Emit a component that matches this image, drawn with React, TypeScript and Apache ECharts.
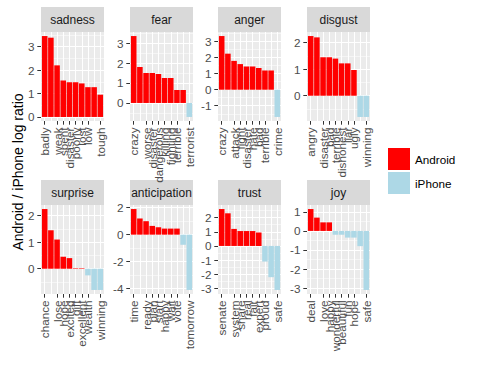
import React, { useEffect, useRef } from "react";
import * as echarts from "echarts";

const sentiments = ["sadness", "fear", "anger", "disgust", "surprise", "anticipation", "trust", "joy"];

const sadnessWords = ["badly", "crazy", "weak", "spent", "disaster", "poorly", "lost", "low", "killing", "tough"];
const sadnessValues = [3.45, 3.38, 2.2, 1.55, 1.48, 1.48, 1.43, 1.27, 1.27, 0.95];

const fearWords = ["crazy", "fight", "worse", "disaster", "dangerous", "killing", "fighting", "terrible", "chaotic", "terrorist"];
const fearValues = [3.35, 1.8, 1.5, 1.5, 1.45, 1.25, 1.25, 0.65, 0.65, -0.7];

const angerWords = ["crazy", "angry", "attack", "fight", "disaster", "hate", "bad", "terrible", "killing", "crime"];
const angerValues = [3.35, 2.25, 1.8, 1.6, 1.45, 1.45, 1.35, 1.2, 1.2, -1.7];

const disgustWords = ["angry", "mess", "disaster", "bad", "terrible", "dishonest", "liar", "ugly", "unfair", "winning"];
const disgustValues = [2.25, 2.2, 1.45, 1.45, 1.4, 1.22, 1.22, 0.97, -0.8, -0.8];

const surpriseWords = ["chance", "death", "lose", "hope", "excited", "gift", "excellent", "wealth", "wonderful", "winning"];
const surpriseValues = [2.25, 1.45, 1.1, 0.45, 0.4, 0.02, 0.02, -0.25, -0.8, -0.8];

const anticipationWords = ["time", "hope", "ready", "plan", "start", "happy", "wait", "vote", "watch", "tomorrow"];
const anticipationValues = [1.9, 1.2, 1.0, 0.65, 0.55, 0.45, 0.45, 0.45, -0.75, -4.1];

const trustWords = ["senate", "economy", "system", "share", "real", "fair", "expert", "proud", "repeal", "safe"];
const trustValues = [2.6, 2.3, 1.2, 1.05, 1.05, 1.05, 0.95, -1.1, -2.2, -3.1];

const joyWords = ["deal", "special", "love", "happy", "wonderful", "beautiful", "fun", "hope", "winning", "safe"];
const joyValues = [1.15, 0.7, 0.45, 0.45, -0.2, -0.2, -0.35, -0.35, -0.8, -3.1];

const allWords = [sadnessWords, fearWords, angerWords, disgustWords, surpriseWords, anticipationWords, trustWords, joyWords];
const allValues = [sadnessValues, fearValues, angerValues, disgustValues, surpriseValues, anticipationValues, trustValues, joyValues];
const yBreakSteps = [1, 1, 1, 1, 1, 2, 1, 1];
const legendNames = ["Android", "iPhone"];

const colLeft = [41, 130, 218, 307];
const rowTop = [32, 205];
const panelW = 63;
const panelH = 89;
const stripH = 25;
const FONT = "Liberation Sans, Arial, sans-serif";
const RED = "#FF0000";
const BLUE = "#ADD8E6";

function range(a: number, b: number, step: number): number[] {
  const out: number[] = [];
  for (let v = a; v <= b + 1e-9; v += step) out.push(Math.round(v * 1000) / 1000);
  return out;
}

export default function App() {
  const ref = useRef<HTMLDivElement>(null);
  useEffect(() => {
    if (!ref.current) return;
    const chart = echarts.init(ref.current, undefined, { renderer: "svg" });
    const grids: any[] = [];
    const xAxes: any[] = [];
    const yAxes: any[] = [];
    const series: any[] = [];
    const graphics: any[] = [];
    const positions = [1, 2, 3, 4, 5, 6, 7, 8, 9, 10];

    sentiments.forEach((s, k) => {
      const col = k % 4;
      const row = Math.floor(k / 4);
      const left = colLeft[col];
      const top = rowTop[row];
      grids.push({
        left, top, width: panelW, height: panelH,
        show: true, backgroundColor: "#EBEBEB", borderWidth: 0, containLabel: false,
      });
      graphics.push({
        type: "rect", shape: { x: left, y: top - stripH, width: panelW, height: stripH },
        style: { fill: "#D9D9D9" }, silent: true,
      });
      graphics.push({
        type: "text", x: left + panelW / 2, y: top - stripH / 2,
        style: { text: s, fill: "#1A1A1A", font: `12px ${FONT}`, align: "center", verticalAlign: "middle" },
        silent: true,
      });
      const vals = allValues[k];
      const words = allWords[k];
      const dmax = Math.max(0, ...vals);
      const dmin = Math.min(0, ...vals);
      const span = dmax - dmin;
      const ymin = dmin - span * 0.05;
      const ymax = dmax + span * 0.05;
      const step = yBreakSteps[k];
      const majors = range(Math.ceil(ymin / step) * step, Math.floor(ymax / step) * step, step);
      const minorsAll = range(Math.ceil(ymin / step) * step - step / 2, Math.floor(ymax / step) * step + step / 2, step);
      const minors = minorsAll.filter((v) => v > ymin && v < ymax);

      xAxes.push({
        type: "value", gridIndex: k, min: 0.4, max: 10.6, position: "bottom",
        axisLine: { show: false, onZero: false },
        axisTick: { show: true, customValues: positions, length: 3.7, lineStyle: { color: "#333333", width: 1 } },
        axisLabel: {
          show: true, customValues: positions, rotate: 90, margin: 6.5,
          showMinLabel: true, showMaxLabel: true, hideOverlap: false,
          formatter: (v: number) => words[Math.round(v) - 1] || "",
          fontSize: 11.7, fontFamily: FONT, color: "#4D4D4D",
        },
        splitLine: { show: true, lineStyle: { color: "#FFFFFF", width: 1 } },
      });
      yAxes.push({
        type: "value", gridIndex: k, min: ymin, max: ymax, position: "left",
        axisLine: { show: false, onZero: false },
        axisTick: { show: true, customValues: majors, length: 3.7, lineStyle: { color: "#333333", width: 1 } },
        axisLabel: {
          show: true, customValues: majors, margin: 6.5,
          showMinLabel: true, showMaxLabel: true,
          fontSize: 11.7, fontFamily: FONT, color: "#4D4D4D",
        },
        splitLine: { show: true, lineStyle: { color: "#FFFFFF", width: 1 } },
      });
      yAxes.push({
        type: "value", gridIndex: k, min: ymin, max: ymax, position: "left",
        axisLine: { show: false, onZero: false },
        axisTick: { show: false, customValues: minors },
        axisLabel: { show: false, customValues: minors },
        splitLine: { show: true, lineStyle: { color: "#FFFFFF", width: 0.5 } },
      });
      const androidData = vals.map((v, i) => (v >= 0 ? [i + 1, v] : [i + 1, "-"]));
      const iphoneData = vals.map((v, i) => (v < 0 ? [i + 1, v] : [i + 1, "-"]));
      series.push({
        type: "bar", name: legendNames[0], xAxisIndex: k, yAxisIndex: 2 * k,
        data: androidData, barWidth: "90%", barGap: "-100%", itemStyle: { color: RED },
        silent: true,
      });
      series.push({
        type: "bar", name: legendNames[1], xAxisIndex: k, yAxisIndex: 2 * k,
        data: iphoneData, barWidth: "90%", barGap: "-100%", itemStyle: { color: BLUE },
        silent: true,
      });
    });

    graphics.push({
      type: "text", x: 18, y: 172, rotation: Math.PI / 2,
      style: { text: "Android / iPhone log ratio", fill: "#000000", font: `14px ${FONT}`, align: "center", verticalAlign: "middle" },
      silent: true,
    });

    chart.setOption({
      animation: false,
      backgroundColor: "#FFFFFF",
      grid: grids,
      xAxis: xAxes,
      yAxis: yAxes,
      series,
      graphic: graphics,
      legend: {
        data: legendNames, orient: "vertical", left: 388, top: 148, padding: 0,
        itemWidth: 22, itemHeight: 22, itemGap: 2, icon: "rect",
        textStyle: { fontSize: 11.7, fontFamily: FONT, color: "#000000" },
        selectedMode: false,
      },
    });
    return () => chart.dispose();
  }, []);
  return <div ref={ref} style={{ position: "fixed", left: 0, top: 0, width: 480, height: 384 }} />;
}
